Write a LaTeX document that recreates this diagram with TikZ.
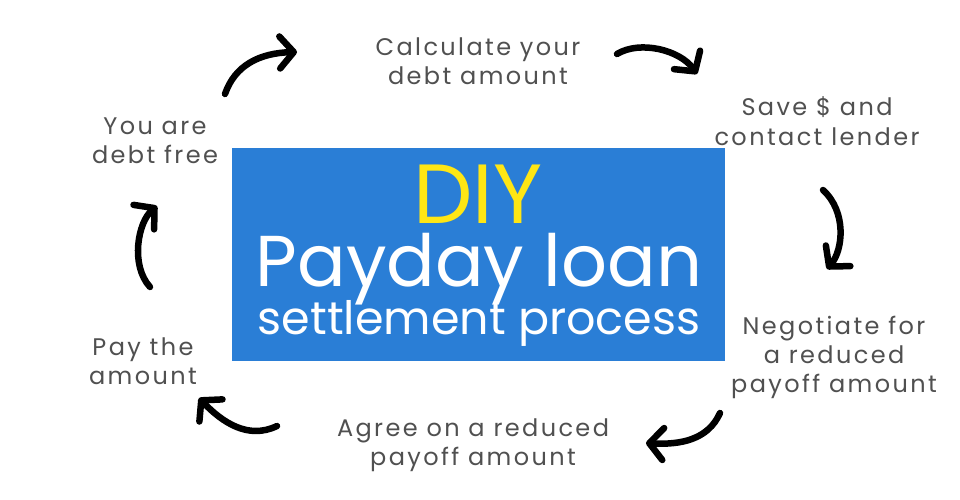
\documentclass[tikz,border=0pt]{standalone}
\usepackage{fontspec}
\setmainfont{Poppins}
\usetikzlibrary{arrows.meta}
\definecolor{boxblue}{RGB}{42,126,214}
\definecolor{diyyellow}{RGB}{255,230,20}
\definecolor{labelgrey}{RGB}{80,80,80}
\begin{document}
\begin{tikzpicture}[x=1pt,y=-1pt,
  lbl/.style={anchor=base,align=center,text=labelgrey,inner sep=0pt,
    font=\fontsize{24}{29}\selectfont\addfontfeatures{LetterSpace=10}},
  ttl/.style={anchor=base,inner sep=0pt,text depth=0pt},
  cyc/.style={line width=6.5pt,line cap=round,
    -{Straight Barb[length=14pt,width=32pt,round]}}]
\useasboundingbox (0,0) rectangle (960,500);
\fill[white] (0,0) rectangle (960,500);
\node[fill=boxblue,minimum width=493pt,minimum height=213pt,inner sep=0pt] (box) at (478.5,254.5) {};
\node[ttl,text=diyyellow,text height=58pt,font=\fontsize{84}{84}\selectfont] (diy) at (478,223) {DIY};
\node[ttl,text=white,text height=48pt,font=\fontsize{72}{72}\selectfont] (pay) at (479,286) {Payday loan};
\node[ttl,text=white,text height=30pt,font=\fontsize{46}{46}\selectfont] (settle) at (479,334) {settlement process};

\node[lbl] (calc) at (478,85) {Calculate your\\debt amount};
\node[lbl] (save) at (817,145) {Save \$ and\\contact lender};
\node[lbl] (nego) at (834,392) {Negotiate for\\a reduced\\payoff amount};
\node[lbl] (agree) at (473,465) {Agree on a reduced\\payoff amount};
\node[lbl] (paythe) at (143,384) {Pay the\\amount};
\node[lbl] (free) at (155,163) {You are\\debt free};

\coordinate (a1s) at (225,94);  \coordinate (a1e) at (297,52);
\coordinate (a2s) at (617,54);  \coordinate (a2e) at (697,74);
\coordinate (a3s) at (823,190); \coordinate (a3e) at (827,269);
\coordinate (a4s) at (720,413); \coordinate (a4e) at (646,443);
\coordinate (a5s) at (277,426); \coordinate (a5e) at (199,398);
\coordinate (a6s) at (150,287); \coordinate (a6e) at (157,206);

\draw[cyc] (a1s) .. controls (235,65) and (260,53) .. (a1e);
\draw[cyc] (a2s) .. controls (640,40) and (680,50) .. (a2e);
\draw[cyc] (a3s) .. controls (847,212) and (843,250) .. (a3e);
\draw[cyc] (a4s) .. controls (708,440) and (680,445) .. (a4e);
\draw[cyc] (a5s) .. controls (248,440) and (222,422) .. (a5e);
\draw[cyc] (a6s) .. controls (130,265) and (138,222) .. (a6e);
\end{tikzpicture}
\end{document}
